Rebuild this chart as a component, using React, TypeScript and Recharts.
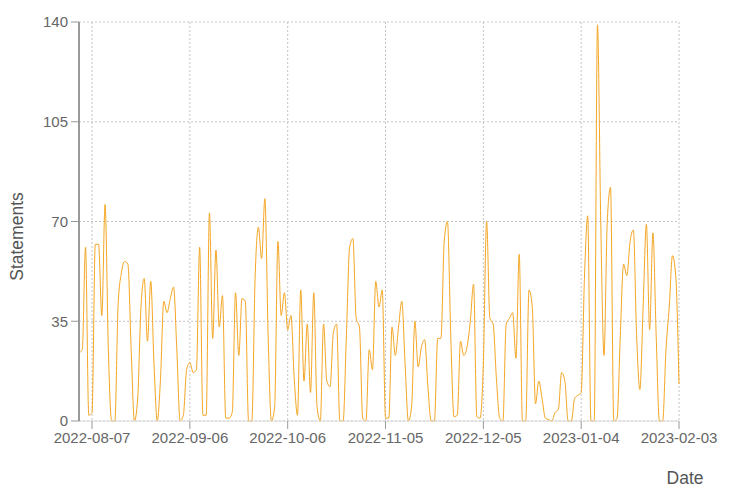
import { LineChart, Line, XAxis, YAxis, CartesianGrid, Label } from 'recharts'

// daily statement counts, starting 2022-08-03
const startDate = '2022-08-03'

const statements = [
  24, 25, 61, 2, 3, 62, 62, 37, 76, 25,
  0, 0, 41, 52, 56, 55, 25, 0, 8, 40,
  50, 28, 49, 20, 0, 15, 42, 38, 43, 47,
  25, 0, 2, 18, 20.5, 17, 18, 61, 2, 2,
  73, 29, 60, 33, 44, 1, 1, 3, 45, 23,
  43, 42, 0, 0, 50, 68, 57, 78, 30, 0,
  5, 63, 37, 45, 32, 37, 15, 2, 46, 14,
  34, 10, 45, 5, 0, 34, 14, 12, 31, 34,
  0, 0, 30, 61, 64, 36, 33, 1, 0, 25,
  18, 49, 40, 46, 1, 1, 33, 23, 33, 42,
  20, 0, 5, 35, 19, 26, 28.5, 12, 0, 0,
  29, 29, 63, 70, 30, 1.5, 2, 28, 23, 26,
  35, 48, 1.5, 1, 20, 70, 36, 34, 15, 1,
  0, 34, 36, 38, 22, 58.5, 0, 0, 46, 40,
  6, 14, 8, 1, 0.5, 0, 3, 4, 17, 14,
  0, 0, 8, 9, 10, 50, 72, 0, 0, 139,
  70, 23, 70, 82, 0, 1, 30, 55, 51, 63,
  67, 30, 11, 40, 69, 32, 66, 30, 0, 0,
  25, 40, 58, 51, 13,
]

const dateTicks = [
  '2022-08-07',
  '2022-09-06',
  '2022-10-06',
  '2022-11-05',
  '2022-12-05',
  '2023-01-04',
  '2023-02-03',
]

const yTicks = [0, 35, 70, 105, 140]

const dayMs = 24 * 60 * 60 * 1000
const start = new Date(startDate + 'T00:00:00Z').getTime()
const data = statements.map((v, i) => ({
  date: new Date(start + i * dayMs).toISOString().slice(0, 10),
  statements: v,
}))

const font = '"Liberation Sans", Arial, sans-serif'

function YTitle({ viewBox }: any) {
  const cx = viewBox.x + 16.5
  const cy = viewBox.y + viewBox.height / 2 + 15
  return (
    <text
      x={cx}
      y={cy}
      transform={`rotate(-90 ${cx} ${cy})`}
      textAnchor="middle"
      dominantBaseline="central"
      fill="#555"
      fontSize={17.5}
      fontFamily={font}
    >
      Statements
    </text>
  )
}

function XTitle({ viewBox }: any) {
  return (
    <text
      x={viewBox.x + viewBox.width + 6}
      y={viewBox.y + 63}
      textAnchor="middle"
      fill="#555"
      fontSize={17.5}
      fontFamily={font}
    >
      Date
    </text>
  )
}

export default function App() {
  return (
    <div style={{ position: 'absolute', left: 0, top: 0 }}>
      <LineChart
        width={732}
        height={492}
        data={data}
        margin={{ top: 22, right: 53, left: 0, bottom: 41 }}
      >
        <CartesianGrid stroke="#c4c4c4" strokeDasharray="2 2" />
        <XAxis
          dataKey="date"
          ticks={dateTicks}
          interval={0}
          height={30}
          tickSize={8}
          tickMargin={3}
          stroke="#999"
          axisLine={{ stroke: '#ddd' }}
          tick={{ fontSize: 15, fill: '#666', fontFamily: font }}
        >
          <Label content={<XTitle />} />
        </XAxis>
        <YAxis
          width={79}
          domain={[0, 140]}
          ticks={yTicks}
          tickSize={8}
          tickMargin={3}
          stroke="#999"
          axisLine={{ stroke: '#999', strokeWidth: 2 }}
          tick={{ fontSize: 15, fill: '#666', fontFamily: font }}
        >
          <Label content={<YTitle />} />
        </YAxis>
        <Line
          type="monotone"
          dataKey="statements"
          stroke="#f5a623"
          strokeWidth={1}
          dot={false}
          isAnimationActive={false}
        />
      </LineChart>
    </div>
  )
}
